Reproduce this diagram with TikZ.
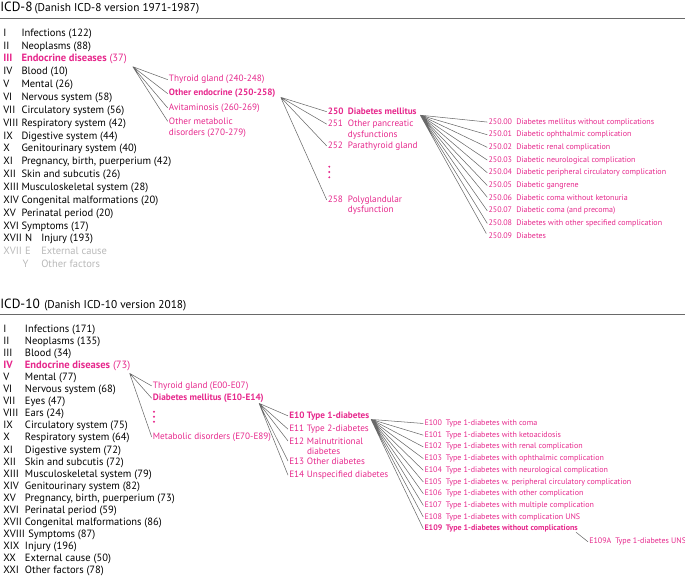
\documentclass[tikz,border=0pt]{standalone}
\usepackage{fontspec}
\setmainfont{PT Sans}
\definecolor{icdpink}{RGB}{230,40,140}
\definecolor{icdgrey}{RGB}{185,185,185}
\definecolor{icdline}{RGB}{105,105,105}
\newcommand{\ttlfont}{\fontsize{10pt}{11pt}\selectfont}
\newcommand{\subfont}{\fontsize{8.5pt}{10pt}\selectfont}
\newcommand{\lstfont}{\fontsize{7.9pt}{9pt}\selectfont}
\newcommand{\midfont}{\fontsize{6.9pt}{8pt}\selectfont}
\newcommand{\smlfont}{\fontsize{6pt}{7pt}\selectfont}
\newcommand{\rnA}[1]{\makebox[13.7pt][l]{#1}}
\newcommand{\rnAA}[1]{\makebox[28.5pt][l]{#1}}
\newcommand{\rnB}[1]{\makebox[16.3pt][l]{#1}}
\newcommand{\cdA}[1]{\makebox[15pt][l]{#1}}
\newcommand{\cdB}[1]{\makebox[20.8pt][l]{#1}}
\newcommand{\cdC}[1]{\makebox[13.3pt][l]{#1}}
\newcommand{\cdD}[1]{\makebox[16pt][l]{#1}}
\tikzset{every picture/.style={line width=0.4pt}}
\tikzset{
  listrow/.style={anchor=base west, inner sep=0.75pt, font=\lstfont},
  branch/.style={anchor=base west, inner sep=0.75pt, font=\midfont, text=icdpink},
  leaf/.style={anchor=base west, inner sep=0.75pt, font=\smlfont, text=icdpink},
  fanline/.style={draw=icdline, line width=0.4pt},
  rule/.style={draw=icdline, line width=0.6pt}
}

\begin{document}
\begin{tikzpicture}[x=0.75pt,y=0.75pt,yscale=-1,xscale=1]
\useasboundingbox (0,0) rectangle (685,575);

% ---------------- ICD-8 ----------------
% Text Node
\node [anchor=base west, inner sep=0pt, font=\ttlfont] (t8) at (0,11.9) {ICD-8};
\node [anchor=base west, inner sep=0pt, font=\subfont] (s8) at (34.3,11.9) {(Danish ICD-8 version 1971-1987)};
%Straight Lines
\draw [rule] (0,18.5) -- (685,18.5);

% Text Node
\node [listrow] (a1) at (2,36.2) {\rnA{I}Infections (122)};
\node [listrow] (a2) at (2,49.1) {\rnA{II}Neoplasms (88)};
\node [listrow, text=icdpink] (a3) at (2,61.9) {\rnA{\textbf{III}}\textbf{Endocrine diseases} (37)};
\node [listrow] (a4) at (2,74.8) {\rnA{IV}Blood (10)};
\node [listrow] (a5) at (2,87.6) {\rnA{V}Mental (26)};
\node [listrow] (a6) at (2,100.5) {\rnA{VI}Nervous system (58)};
\node [listrow] (a7) at (2,113.3) {\rnA{VII}Circulatory system (56)};
\node [listrow] (a8) at (2,126.2) {\rnA{VIII}Respiratory system (42)};
\node [listrow] (a9) at (2,139.0) {\rnA{IX}Digestive system (44)};
\node [listrow] (a10) at (2,151.9) {\rnA{X}Genitourinary system (40)};
\node [listrow] (a11) at (2,164.7) {\rnA{XI}Pregnancy, birth, puerperium (42)};
\node [listrow] (a12) at (2,177.6) {\rnA{XII}Skin and subcutis (26)};
\node [listrow] (a13) at (2,190.4) {\rnA{XIII}Musculoskeletal system (28)};
\node [listrow] (a14) at (2,203.3) {\rnA{XIV}Congenital malformations (20)};
\node [listrow] (a15) at (2,216.1) {\rnA{XV}Perinatal period (20)};
\node [listrow] (a16) at (2,229.0) {\rnA{XVI}Symptoms (17)};
\node [listrow] (a17) at (2,241.8) {\rnAA{XVII\hspace{2.5pt}N}Injury (193)};
\node [listrow, text=icdgrey] (a18) at (2,254.7) {\rnAA{XVII\hspace{2.5pt}E}External cause};
\node [listrow, text=icdgrey] (a19) at (2,267.5) {\rnAA{\hspace{14.5pt}Y}Other factors};

% Text Node
\node [branch] (thy8) at (167.7,81.9) {Thyroid gland (240-248)};
\node [branch] (oth8) at (167.7,95.9) {\textbf{Other endocrine (250-258)}};
\node [branch] (avi8) at (167.7,110.2) {Avitaminosis (260-269)};
\node [branch] (met8) at (167.7,124.5) {Other metabolic};
\node [branch] (met8b) at (167.7,135.2) {disorders (270-279)};

% Text Node
\node [branch] (c250) at (326.7,114.9) {\textbf{\cdA{250}Diabetes mellitus}};
\node [branch] (c251) at (326.7,126.5) {\cdA{251}Other pancreatic};
\node [branch] (c251b) at (326.7,137.2) {\cdA{}dysfunctions};
\node [branch] (c252) at (326.7,148.2) {\cdA{252}Parathyroid gland};
\node [branch] (c258) at (326.7,202.2) {\cdA{258}Polyglandular};
\node [branch] (c258b) at (326.7,212.9) {\cdA{}dysfunction};
% vertical dots
\fill [icdpink] (329.3,166.7) circle (1.1) (329.3,172) circle (1.1) (329.3,177.3) circle (1.1);

% Text Node
\node [leaf] (d0) at (487.3,124.1) {\cdB{250.00}Diabetes mellitus without complications};
\node [leaf] (d1) at (487.3,136.8) {\cdB{250.01}Diabetic ophthalmic complication};
\node [leaf] (d2) at (487.3,149.4) {\cdB{250.02}Diabetic renal complication};
\node [leaf] (d3) at (487.3,162.1) {\cdB{250.03}Diabetic neurological complication};
\node [leaf] (d4) at (487.3,174.8) {\cdB{250.04}Diabetic peripheral circulatory complication};
\node [leaf] (d5) at (487.3,187.5) {\cdB{250.05}Diabetic gangrene};
\node [leaf] (d6) at (487.3,200.1) {\cdB{250.06}Diabetic coma without ketonuria};
\node [leaf] (d7) at (487.3,212.8) {\cdB{250.07}Diabetic coma (and precoma)};
\node [leaf] (d8) at (487.3,225.5) {\cdB{250.08}Diabetes with other specified complication};
\node [leaf] (d9) at (487.3,238.1) {\cdB{250.09}Diabetes};

\coordinate (fa) at ([shift={(4.6,4.8)}]a3.base east);
\coordinate (fb) at ([shift={(4,1.4)}]oth8.base east);
\coordinate (fc) at ([shift={(2.4,0.3)}]c250.base east);

%Straight Lines
\draw [fanline] (fa) -- (thy8.west) (fa) -- (oth8.west) (fa) -- (avi8.west) (fa) -- (met8.west);
\draw [fanline] (fb) -- (c250.west) (fb) -- (c251.west) (fb) -- (c252.west) (fb) -- (c258.west);
\draw [fanline, shorten >=1.5pt] (fc) -- (d0.west) (fc) -- (d1.west) (fc) -- (d2.west) (fc) -- (d3.west) (fc) -- (d4.west)
  (fc) -- (d5.west) (fc) -- (d6.west) (fc) -- (d7.west) (fc) -- (d8.west) (fc) -- (d9.west);

% ---------------- ICD-10 ----------------
% Text Node
\node [anchor=base west, inner sep=0pt, font=\ttlfont] (t10) at (0,308.5) {ICD-10};
\node [anchor=base west, inner sep=0pt, font=\subfont] (s10) at (44,308.5) {(Danish ICD-10 version 2018)};
%Straight Lines
\draw [rule] (0,314.3) -- (685,314.3);

% Text Node
\node [listrow] (b1) at (2,332.5) {\rnB{I}Infections (171)};
\node [listrow] (b2) at (2,344.55) {\rnB{II}Neoplasms (135)};
\node [listrow] (b3) at (2,356.6) {\rnB{III}Blood (34)};
\node [listrow, text=icdpink] (b4) at (2,368.65) {\rnB{\textbf{IV}}\textbf{Endocrine diseases} (73)};
\node [listrow] (b5) at (2,380.7) {\rnB{V}Mental (77)};
\node [listrow] (b6) at (2,392.75) {\rnB{VI}Nervous system (68)};
\node [listrow] (b7) at (2,404.8) {\rnB{VII}Eyes (47)};
\node [listrow] (b8) at (2,416.85) {\rnB{VIII}Ears (24)};
\node [listrow] (b9) at (2,428.9) {\rnB{IX}Circulatory system (75)};
\node [listrow] (b10) at (2,440.95) {\rnB{X}Respiratory system (64)};
\node [listrow] (b11) at (2,453.0) {\rnB{XI}Digestive system (72)};
\node [listrow] (b12) at (2,465.05) {\rnB{XII}Skin and subcutis (72)};
\node [listrow] (b13) at (2,477.1) {\rnB{XIII}Musculoskeletal system (79)};
\node [listrow] (b14) at (2,489.15) {\rnB{XIV}Genitourinary system (82)};
\node [listrow] (b15) at (2,501.2) {\rnB{XV}Pregnancy, birth, puerperium (73)};
\node [listrow] (b16) at (2,513.25) {\rnB{XVI}Perinatal period (59)};
\node [listrow] (b17) at (2,525.3) {\rnB{XVII}Congenital malformations (86)};
\node [listrow] (b18) at (2,537.35) {XVIII\hspace{2.5pt}Symptoms (87)};
\node [listrow] (b19) at (2,549.4) {\rnB{XIX}Injury (196)};
\node [listrow] (b20) at (2,561.45) {\rnB{XX}External cause (50)};
\node [listrow] (b21) at (2,573.5) {\rnB{XXI}Other factors (78)};

% Text Node
\node [branch] (thy10) at (151.7,388.2) {Thyroid gland (E00-E07)};
\node [branch] (dm10) at (151.7,400.5) {\textbf{Diabetes mellitus (E10-E14)}};
\node [branch] (met10) at (151.7,439.2) {Metabolic disorders (E70-E89)};
% vertical dots
\fill [icdpink] (154,411.7) circle (1.1) (154,416.7) circle (1.1) (154,421.7) circle (1.1);

% Text Node
\node [branch] (e10) at (288,418.2) {\textbf{\cdC{E10}Type 1-diabetes}};
\node [branch] (e11) at (288,431.5) {\cdC{E11}Type 2-diabetes};
\node [branch] (e12) at (288,444.2) {\cdC{E12}Malnutritional};
\node [branch] (e12b) at (288,454.9) {\cdC{}diabetes};
\node [branch] (e13) at (288,464.2) {\cdC{E13}Other diabetes};
\node [branch] (e14) at (288,477.5) {\cdC{E14}Unspecified diabetes};

% Text Node
\node [leaf] (g0) at (423.3,425.5) {\cdD{E100}Type 1-diabetes with coma};
\node [leaf] (g1) at (423.3,437.2) {\cdD{E101}Type 1-diabetes with ketoacidosis};
\node [leaf] (g2) at (423.3,448.9) {\cdD{E102}Type 1-diabetes with renal complication};
\node [leaf] (g3) at (423.3,460.6) {\cdD{E103}Type 1-diabetes with ophthalmic complication};
\node [leaf] (g4) at (423.3,472.3) {\cdD{E104}Type 1-diabetes with neurological complication};
\node [leaf] (g5) at (423.3,484.0) {\cdD{E105}Type 1-diabetes w. peripheral circulatory complication};
\node [leaf] (g6) at (423.3,495.7) {\cdD{E106}Type 1-diabetes with other complication};
\node [leaf] (g7) at (423.3,507.4) {\cdD{E107}Type 1-diabetes with multiple complication};
\node [leaf] (g8) at (423.3,519.1) {\cdD{E108}Type 1-diabetes with complication UNS};
\node [leaf] (g9) at (423.3,530.8) {\textbf{\cdD{E109}Type 1-diabetes without complications}};
\node [leaf] (g9a) at (588,543.8) {\makebox[19.5pt][l]{E109A}Type 1-diabetes UNS};

\coordinate (fd) at ([shift={(-2,4.7)}]b4.base east);
\coordinate (fe) at ([shift={(-6,2.8)}]dm10.base east);
\coordinate (ff) at ([shift={(0.5,1.2)}]e10.base east);
\coordinate (fg) at ([shift={(-3,1.5)}]g9.base east);

%Straight Lines
\draw [fanline] (fd) -- (thy10.west) (fd) -- (dm10.west) (fd) -- (met10.west);
\draw [fanline] (fe) -- (e10.west) (fe) -- (e11.west) (fe) -- (e12.west) (fe) -- (e13.west) (fe) -- (e14.west);
\draw [fanline] (ff) -- (g0.west) (ff) -- (g1.west) (ff) -- (g2.west) (ff) -- (g3.west) (ff) -- (g4.west)
  (ff) -- (g5.west) (ff) -- (g6.west) (ff) -- (g7.west) (ff) -- (g8.west) (ff) -- (g9.west);
\draw [fanline] (fg) -- (g9a.west);

\end{tikzpicture}
\end{document}
